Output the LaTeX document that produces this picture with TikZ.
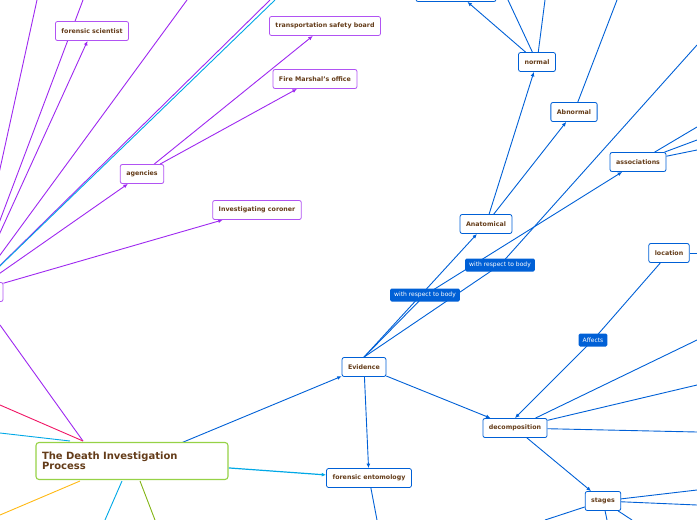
\documentclass[tikz,border=0pt]{standalone}
\usepackage{fontspec}
\setmainfont{DejaVu Sans}
\usetikzlibrary{arrows.meta,backgrounds}
\definecolor{mapblue}{RGB}{0,96,214}
\definecolor{mappurple}{RGB}{158,40,240}
\definecolor{mapcyan}{RGB}{0,168,230}
\definecolor{mapgreen}{RGB}{150,210,70}
\definecolor{mappink}{RGB}{240,20,100}
\definecolor{maporange}{RGB}{255,185,20}
\definecolor{mapolive}{RGB}{130,180,20}
\definecolor{textbrown}{RGB}{100,60,25}
\tikzset{
  topic/.style={draw=mapblue, fill=white, rounded corners=2pt, line width=0.8pt,
    font=\fontsize{6.3}{7}\selectfont\bfseries, text=textbrown, minimum height=19pt, inner xsep=6pt},
  ptopic/.style={topic, draw=mappurple!80},
  tag/.style={fill=mapblue, rounded corners=1.5pt, font=\fontsize{6}{6}\selectfont,
    text=white, minimum height=13pt, inner xsep=4pt},
  link/.style={draw=mapblue, line width=0.9pt},
  plink/.style={draw=mappurple, line width=0.9pt},
  arr/.style={-{Latex[length=4.5pt,width=4pt]}}
}
\begin{document}
\begin{tikzpicture}[x=1pt,y=-1pt]
\useasboundingbox (0,0) rectangle (697,520);
% main topic
\node [draw=mapgreen, fill=white, rounded corners=3pt, line width=1.1pt, text=textbrown,
  font=\fontsize{10}{10.5}\selectfont\bfseries, align=left, text width=180pt,
  minimum height=37pt, inner xsep=6pt] (death) at (132,461)
  {The Death Investigation\\Process};
% blue branch
\node [topic] (evidence) at (364,367) {Evidence};
\node [topic] (entom) at (369,478) {forensic entomology};
\node [topic] (decomp) at (515,428) {decomposition};
\node [topic] (stages) at (603,501) {stages};
\node [topic] (anat) at (486,224) {Anatomical};
\node [topic] (normal) at (537,62) {normal};
\node [topic] (abnormal) at (574,112) {Abnormal};
\node [topic] (assoc) at (638,162) {associations};
\node [topic] (location) at (669,253) {location};
\node [topic, minimum width=80pt] (upper) at (456,-8) {};
\node [tag] (wrt1) at (425,295) {with respect to body};
\node [tag] (wrt2) at (500,265) {with respect to body};
\node [tag] (affects) at (593,340) {Affects};
% purple branch
\node [ptopic, minimum width=60pt] (people) at (-27,292) {};
\node [ptopic] (scientist) at (92,31) {forensic scientist};
\node [ptopic] (tsb) at (325,26) {transportation safety board};
\node [ptopic] (fire) at (315,79) {Fire Marshal's office};
\node [ptopic] (agencies) at (142,174) {agencies};
\node [ptopic] (coroner) at (257,210) {Investigating coroner};
% free ends
\coordinate (e1) at (697,45);
\coordinate (n1) at (508,0);
\coordinate (n2) at (545,0);
\coordinate (ab1) at (617,0);
\coordinate (as1) at (697,127);
\coordinate (as2) at (697,140);
\coordinate (as3) at (697,150);
\coordinate (lo1) at (697,253);
\coordinate (d1) at (697,340);
\coordinate (d2) at (697,385);
\coordinate (d3) at (697,432);
\coordinate (s1) at (697,490);
\coordinate (s2) at (697,505);
\coordinate (s3) at (545,520);
\coordinate (s4) at (607,520);
\coordinate (s5) at (632,520);
\coordinate (en1) at (377,520);
\coordinate (p1) at (37,0);
\coordinate (p2) at (83,0);
\coordinate (p3) at (187,0);
\coordinate (p4) at (270,0);
\coordinate (c1) at (275,0);
\coordinate (m1) at (0,325);
\coordinate (m2) at (0,405);
\coordinate (m3) at (0,433);
\coordinate (m4) at (0,515);
\coordinate (m5) at (105,520);
\coordinate (m6) at (155,520);

\begin{scope}[on background layer]
\draw [link, arr] (181,443) -- (evidence);
\draw [draw=mapcyan, line width=1.2pt, arr] (death) -- (entom);
\draw [link, arr] (evidence) -- (entom);
\draw [link, arr] (evidence) -- (decomp);
\draw [link, arr] (evidence.north) -- (anat);
\draw [link, arr] (evidence.north) -- (wrt1.center) -- (assoc);
\draw [link] (evidence.north) -- (wrt2.center) -- (e1);
\draw [link, arr] (anat) -- (normal);
\draw [link, arr] (anat) -- (abnormal);
\draw [link, arr] (normal) -- (upper);
\draw [link] (normal) -- (n1);
\draw [link] (normal) -- (n2);
\draw [link] (abnormal) -- (ab1);
\foreach \c in {as1,as2,as3} \draw [link] (assoc) -- (\c);
\draw [link] (location) -- (lo1);
\draw [link] (location) -- (affects.center);
\draw [link, arr] (affects.center) -- (decomp.north);
\foreach \c in {d1,d2,d3} \draw [link] (decomp) -- (\c);
\draw [link, arr] (decomp) -- (stages);
\foreach \c in {s1,s2,s3,s4,s5} \draw [link] (stages) -- (\c);
\draw [link] (entom) -- (en1);
% purple lines
\draw [plink, arr] (people) -- (scientist);
\draw [plink, arr] (people) -- (agencies);
\draw [plink, arr] (people) -- (coroner);
\foreach \c in {p1,p2,p3,p4} \draw [plink] (people) -- (\c);
\draw [draw=mapcyan, line width=0.9pt] (people) -- (c1);
\draw [plink, arr] (agencies) -- (tsb);
\draw [plink, arr] (agencies) -- (fire);
% other branches of the main topic
\draw [plink] (83,441) -- (m1);
\draw [draw=mappink, line width=0.9pt] (83,441) -- (m2);
\draw [draw=mapcyan, line width=0.9pt] (70,441) -- (m3);
\draw [draw=maporange, line width=0.9pt] (80,481) -- (m4);
\draw [draw=mapcyan, line width=0.9pt] (122,481) -- (m5);
\draw [draw=mapolive, line width=0.9pt] (140,481) -- (m6);
\end{scope}
\end{tikzpicture}
\end{document}
